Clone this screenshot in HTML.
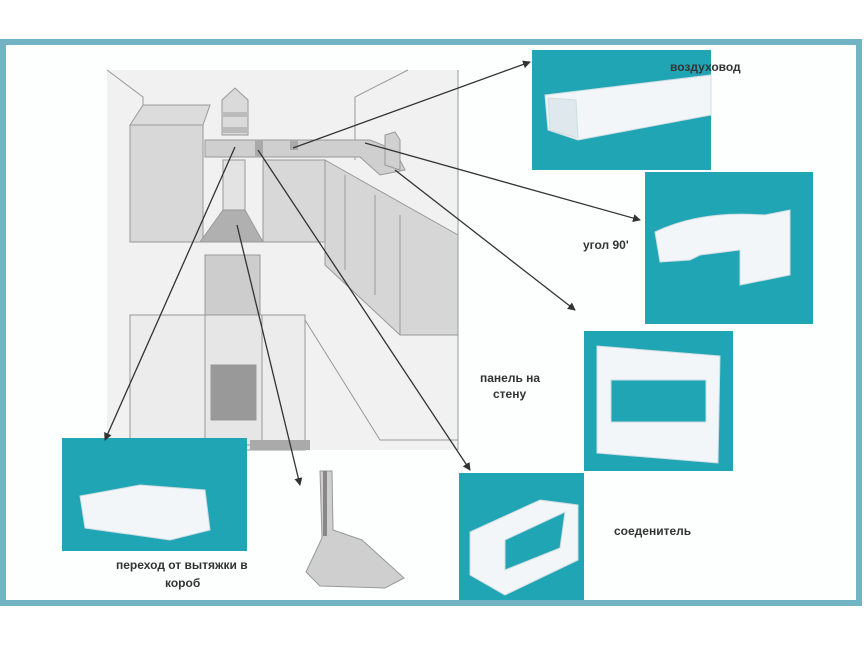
<!DOCTYPE html>
<html><head><meta charset="utf-8"><style>
html,body{margin:0;padding:0;background:#fff;width:864px;height:646px;overflow:hidden}
svg{display:block}
text{font-family:"Liberation Sans",sans-serif;font-weight:bold;fill:#333;font-size:12px}
</style></head><body>
<svg width="864" height="646" viewBox="0 0 864 646" xmlns="http://www.w3.org/2000/svg">
<defs>
<marker id="ah" markerWidth="8" markerHeight="8" refX="7" refY="4" orient="auto" markerUnits="userSpaceOnUse">
<path d="M0,0 L8,4 L0,8 z" fill="#333"/></marker>
</defs>
<rect x="0" y="0" width="864" height="646" fill="#fff"/>
<rect x="3" y="42" width="856" height="561" fill="#fdfefe" stroke="#72b4c4" stroke-width="6"/>
<g stroke="#999" stroke-width="1" fill="none">
<rect x="107" y="70" width="351" height="380" fill="#f1f1f1" stroke="none"/>
<path d="M107,70 L143,97 L143,105"/><path d="M408,70 L355,97 L355,160"/>
<line x1="458" y1="70" x2="458" y2="450"/>
<path d="M130,125 L143,105 L210,105 L203,125 Z" fill="#dcdcdc"/>
<rect x="130" y="125" width="73" height="117" fill="#d8d8d8"/>
<path d="M222,100 L235,88 L248,100 L248,135 L222,135 Z" fill="#dadada"/>
<rect x="222" y="112" width="26" height="5" fill="#bbb" stroke="none"/>
<rect x="222" y="127" width="26" height="6" fill="#bbb" stroke="none"/>
<path d="M205,140 L370,140 L395,150 L405,170 L380,175 L360,157 L205,157 Z" fill="#cfcfcf"/>
<rect x="255" y="140" width="8" height="17" fill="#aaa" stroke="none"/>
<rect x="290" y="140" width="8" height="10" fill="#aaa" stroke="none"/>
<path d="M385,135 L395,132 L400,140 L400,170 L385,165 Z" fill="#d0d0d0"/>
<rect x="223" y="160" width="22" height="50" fill="#e3e3e3"/>
<path d="M223,210 L245,210 L263,242 L200,242 Z" fill="#b0b0b0"/>
<rect x="263" y="160" width="62" height="82" fill="#d8d8d8"/>
<path d="M325,160 L458,235 L458,335 L400,335 L325,265 Z" fill="#d6d6d6"/>
<path d="M345,175 L345,270 M375,195 L375,295 M400,215 L400,335"/>
<rect x="205" y="255" width="55" height="60" fill="#cdcdcd"/>
<rect x="130" y="315" width="175" height="135" fill="#ececec"/>
<rect x="205" y="315" width="57" height="130" fill="#e6e6e6"/>
<rect x="211" y="365" width="45" height="55" fill="#999"/>
<path d="M305,320 L380,440 L458,440"/>
<rect x="250" y="440" width="60" height="10" fill="#aaa" stroke="none"/>
</g>
<g fill="#1fa5b4">
<rect x="532" y="50" width="179" height="120"/>
<rect x="645" y="172" width="168" height="152"/>
<rect x="584" y="331" width="149" height="140"/>
<rect x="459" y="473" width="125" height="127"/>
<rect x="62" y="438" width="185" height="113"/>
</g>
<g fill="#f2f6f8" stroke="#cfdde3">
<path d="M545,95 L711,75 L711,115 L578,140 L548,130 Z"/>
<path d="M548,98 L576,100 L578,138 L550,130 Z" fill="#dfe8ec"/>
<path d="M655,232 Q700,210 765,215 L790,210 L790,275 L740,285 L740,250 L700,255 L690,260 L660,262 Z"/>
<path d="M597,346 L720,356 L718,463 L597,453 Z"/>
<rect x="611" y="380" width="95" height="42" fill="#1fa5b4"/>
<path d="M470,532 L540,500 L578,505 L578,560 L505,595 L470,575 Z"/>
<path d="M505,540 L565,512 L560,548 L505,570 Z" fill="#1fa5b4"/>
<path d="M80,496 L140,485 L205,490 L210,530 L170,540 L85,528 Z"/>
</g>
<path d="M320,471 L332,471 L333,530 L362,540 L404,578 L385,588 L320,586 L306,572 L322,538 Z" fill="#cfcfcf" stroke="#999"/>
<rect x="323" y="471" width="4" height="65" fill="#888"/>
<g stroke="#333" stroke-width="1.3" fill="none" marker-end="url(#ah)">
<line x1="235" y1="147" x2="105" y2="440"/>
<line x1="237" y1="225" x2="300" y2="485"/>
<line x1="258" y1="150" x2="470" y2="470"/>
<line x1="293" y1="148" x2="530" y2="62"/>
<line x1="365" y1="143" x2="640" y2="220"/>
<line x1="395" y1="170" x2="575" y2="310"/>
</g>
<text x="670" y="71">воздуховод</text>
<text x="583" y="249">угол 90'</text>
<text x="480" y="382">панель на</text>
<text x="493" y="398">стену</text>
<text x="614" y="535">соеденитель</text>
<text x="116" y="569">переход от вытяжки в</text>
<text x="165" y="587">короб</text>
</svg>
</body></html>
